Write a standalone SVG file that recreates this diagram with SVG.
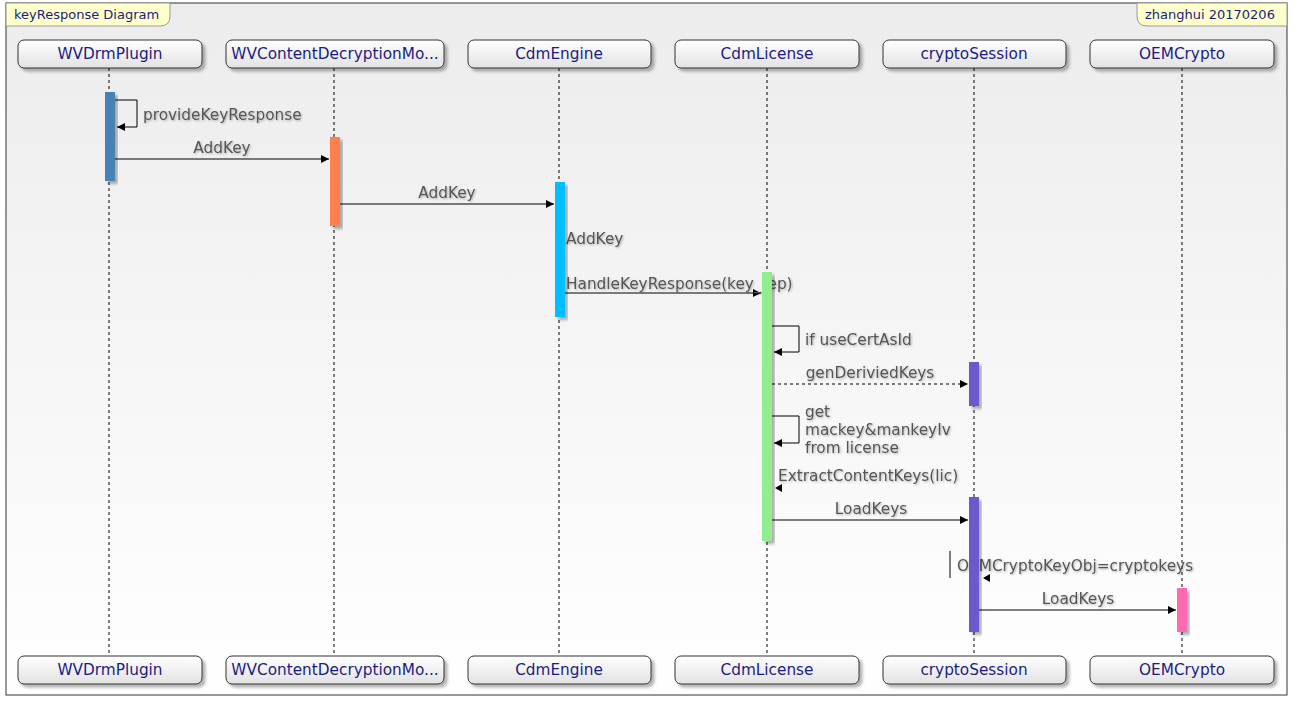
<svg xmlns="http://www.w3.org/2000/svg" width="1295" height="702" viewBox="0 0 1295 702">
<defs>
<linearGradient id="bg" x1="0" y1="0" x2="0" y2="1"><stop offset="0" stop-color="#ececec"/><stop offset="1" stop-color="#ffffff"/></linearGradient>
<linearGradient id="hd" x1="0" y1="0" x2="0" y2="1"><stop offset="0" stop-color="#ffffff"/><stop offset="1" stop-color="#e2e2e2"/></linearGradient>
<filter id="sh" x="-20%" y="-20%" width="150%" height="150%"><feDropShadow dx="3" dy="3" stdDeviation="1.5" flood-color="#000" flood-opacity="0.3"/></filter>
<filter id="ts"><feDropShadow dx="1" dy="1" stdDeviation="0.8" flood-color="#000" flood-opacity="0.3"/></filter>
<marker id="ar" markerWidth="9" markerHeight="8" refX="8" refY="4" orient="auto" markerUnits="userSpaceOnUse"><path d="M0,0 L8,4 L0,8 z" fill="#000"/></marker>
</defs>
<style>
.hb{fill:url(#hd);stroke:#333;stroke-width:1;filter:url(#sh)}
.ht{font-family:"DejaVu Sans",Verdana,sans-serif;font-size:15.3px;fill:#1c1c80;text-anchor:middle}
.ll{stroke:#000;stroke-width:1;stroke-dasharray:3,3}
.m{stroke:#000;stroke-width:1;fill:none}
.lb{font-family:"DejaVu Sans",Verdana,sans-serif;font-size:15.3px;fill:#555;filter:url(#ts)}
.c{text-anchor:middle}
.act{filter:url(#sh)}
.tab{fill:#ffffcc;stroke:#999;stroke-width:1}
.tt{font-family:"DejaVu Sans",Verdana,sans-serif;font-size:13px;fill:#1c1c80}
</style>
<rect x="0" y="0" width="1295" height="702" fill="#fff"/>
<rect x="6" y="3" width="1281" height="692" fill="url(#bg)" stroke="#333"/>
<path class="tab" d="M6,3 H170 V16 Q170,26 160,26 H6 Z"/>
<text class="tt" x="14" y="19">keyResponse Diagram</text>
<path class="tab" d="M1287,3 H1137 V16 Q1137,26 1147,26 H1287 Z"/>
<text class="tt" x="1145" y="19">zhanghui 20170206</text>
<g id="lifelines">
<line class="ll" x1="109" y1="68" x2="109" y2="656"/>
<line class="ll" x1="334" y1="68" x2="334" y2="656"/>
<line class="ll" x1="559" y1="68" x2="559" y2="656"/>
<line class="ll" x1="767" y1="68" x2="767" y2="656"/>
<line class="ll" x1="974" y1="68" x2="974" y2="656"/>
<line class="ll" x1="1182" y1="68" x2="1182" y2="656"/>
</g>
<g id="n-WVDrmPlugin"><rect class="hb" x="18" y="40" width="184" height="28" rx="6"/><text class="ht" x="110" y="59">WVDrmPlugin</text><rect class="hb" x="18" y="656" width="184" height="28" rx="6"/><text class="ht" x="110" y="675">WVDrmPlugin</text></g>
<g id="n-WVCDM"><rect class="hb" x="226" y="40" width="218" height="28" rx="6"/><text class="ht" x="335" y="59">WVContentDecryptionMo...</text><rect class="hb" x="226" y="656" width="218" height="28" rx="6"/><text class="ht" x="335" y="675">WVContentDecryptionMo...</text></g>
<g id="n-CdmEngine"><rect class="hb" x="468" y="40" width="183" height="28" rx="6"/><text class="ht" x="559" y="59">CdmEngine</text><rect class="hb" x="468" y="656" width="183" height="28" rx="6"/><text class="ht" x="559" y="675">CdmEngine</text></g>
<g id="n-CdmLicense"><rect class="hb" x="675" y="40" width="184" height="28" rx="6"/><text class="ht" x="767" y="59">CdmLicense</text><rect class="hb" x="675" y="656" width="184" height="28" rx="6"/><text class="ht" x="767" y="675">CdmLicense</text></g>
<g id="n-cryptoSession"><rect class="hb" x="883" y="40" width="183" height="28" rx="6"/><text class="ht" x="974" y="59">cryptoSession</text><rect class="hb" x="883" y="656" width="183" height="28" rx="6"/><text class="ht" x="974" y="675">cryptoSession</text></g>
<g id="n-OEMCrypto"><rect class="hb" x="1090" y="40" width="184" height="28" rx="6"/><text class="ht" x="1182" y="59">OEMCrypto</text><rect class="hb" x="1090" y="656" width="184" height="28" rx="6"/><text class="ht" x="1182" y="675">OEMCrypto</text></g>
<g id="connectors">
<path class="m" d="M115,100 H137 V127 H117" marker-end="url(#ar)"/>
<text class="lb" x="143" y="120">provideKeyResponse</text>
<line class="m" x1="115" y1="159" x2="329" y2="159" marker-end="url(#ar)"/>
<text class="lb c" x="222" y="153">AddKey</text>
<line class="m" x1="339" y1="204" x2="554" y2="204" marker-end="url(#ar)"/>
<text class="lb c" x="447" y="198">AddKey</text>
<text class="lb" x="566" y="244">AddKey</text>
<line class="m" x1="565" y1="293" x2="761" y2="293" marker-end="url(#ar)"/>
<text class="lb" x="566" y="289">HandleKeyResponse(key_rep)</text>
<path class="m" d="M772,326 H799 V352 H774" marker-end="url(#ar)"/>
<text class="lb" x="805" y="345">if useCertAsId</text>
<line class="m" x1="772" y1="384" x2="968" y2="384" stroke-dasharray="3,3" marker-end="url(#ar)"/>
<text class="lb c" x="870" y="378">genDeriviedKeys</text>
<path class="m" d="M772,416 H799 V443 H774" marker-end="url(#ar)"/>
<text class="lb" x="805" y="417">get</text>
<text class="lb" x="805" y="435">mackey&amp;mankeyIv</text>
<text class="lb" x="805" y="453">from license</text>
<path d="M782,484 L775,488 L782,492 z" fill="#000"/>
<text class="lb" x="778" y="481">ExtractContentKeys(lic)</text>
<line class="m" x1="772" y1="520" x2="968" y2="520" marker-end="url(#ar)"/>
<text class="lb c" x="871" y="514">LoadKeys</text>
<line class="m" x1="950" y1="551" x2="950" y2="578"/>
<path d="M990,574 L983,578 L990,582 z" fill="#000"/>
<text class="lb" x="957" y="571">OEMCryptoKeyObj=cryptokeys</text>
<line class="m" x1="979" y1="610" x2="1176" y2="610" marker-end="url(#ar)"/>
<text class="lb c" x="1078" y="604">LoadKeys</text>
</g>
<g id="activations">
<rect class="act" x="105" y="92" width="10" height="89" fill="#4682b4"/>
<rect class="act" x="330" y="137" width="10" height="89" fill="#ff7f50"/>
<rect class="act" x="555" y="182" width="10" height="135" fill="#00bfff"/>
<rect class="act" x="762" y="272" width="10" height="269" fill="#90ee90"/>
<rect class="act" x="969" y="362" width="10" height="44" fill="#6a5acd"/>
<rect class="act" x="969" y="497" width="10" height="135" fill="#6a5acd"/>
<rect class="act" x="1177" y="588" width="10" height="44" fill="#ff69b4"/>
</g>
</svg>
